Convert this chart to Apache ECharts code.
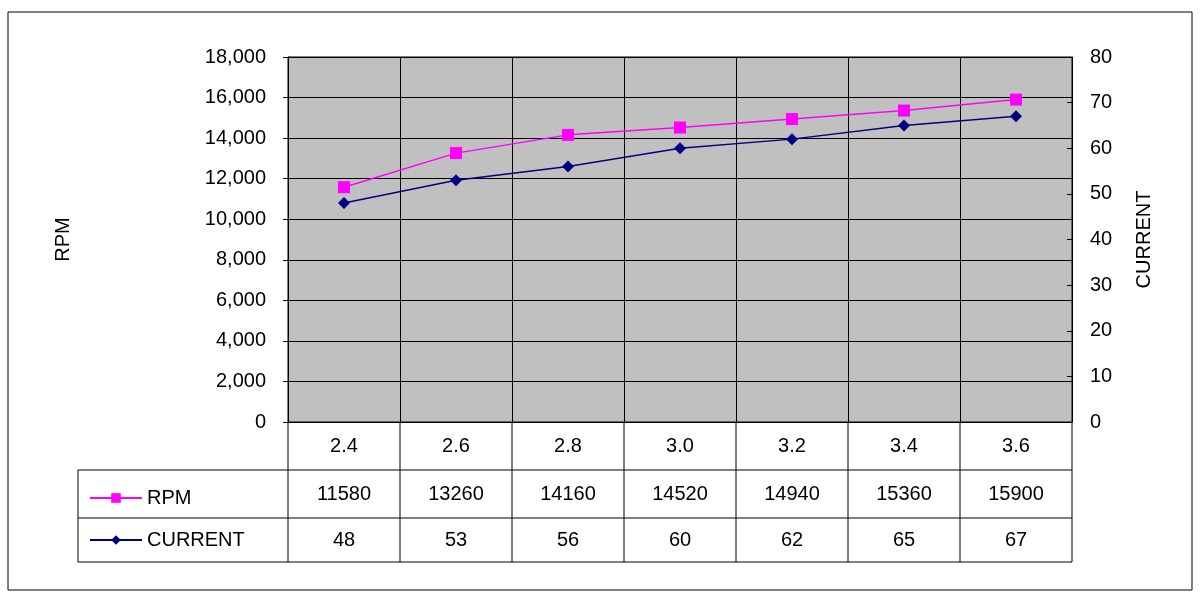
<!DOCTYPE html>
<html><head><meta charset="utf-8">
<script src="https://cdn.jsdelivr.net/npm/echarts@6/dist/echarts.min.js"></script>
<style>html,body{margin:0;background:#fff}#c{width:1200px;height:600px}</style>
</head><body><div id="c"></div>
<script>
const categories = ['2.4','2.6','2.8','3.0','3.2','3.4','3.6'];
const rpm = [11580,13260,14160,14520,14940,15360,15900];
const current = [48,53,56,60,62,65,67];
const F = 'Liberation Sans, Arial, sans-serif';
const chart = echarts.init(document.getElementById('c'));
const L = 288, R = 1072, T = 57, B = 422, W = (R-L)/7;
const lines = [];
function ln(x1,y1,x2,y2){lines.push({type:'line',shape:{x1,y1,x2,y2},style:{stroke:'#000',lineWidth:1},silent:true});}
ln(78,470,R,470); ln(78,518,R,518); ln(78,562,R,562); ln(78,470,78,562);
for(let k=0;k<=7;k++) ln(L+W*k,B,L+W*k,562);
lines.push({type:'rect',shape:{x:8,y:12,width:1184,height:578},style:{fill:'none',stroke:'#000',lineWidth:1},silent:true,z:-1});
const lab = {fontFamily:F,fontSize:20,color:'#000'};
chart.setOption({
  animation:false,
  textStyle:{fontFamily:F},
  grid:{left:L,right:1200-R,top:T,bottom:600-B,show:true,backgroundColor:'#c0c0c0',borderColor:'#000',borderWidth:1},
  legend:{orient:'vertical',left:84,top:483,itemGap:22,itemWidth:52,itemHeight:12,textStyle:{...lab},
    data:['RPM','CURRENT']},
  xAxis:[
    {type:'category',data:categories,axisTick:{show:false},axisLine:{lineStyle:{color:'#000'}},
     splitLine:{show:true,lineStyle:{color:'#000'}},axisLabel:{...lab,margin:14}},
    {type:'category',data:rpm.map(String),position:'bottom',offset:48,axisTick:{show:false},axisLine:{show:false},axisLabel:{...lab,margin:14}},
    {type:'category',data:current.map(String),position:'bottom',offset:96,axisTick:{show:false},axisLine:{show:false},axisLabel:{...lab,margin:12}}
  ],
  yAxis:[
    {type:'value',min:0,max:18000,interval:2000,name:'RPM',nameLocation:'middle',nameGap:215,nameRotate:90,
     nameTextStyle:{...lab},axisLine:{show:true,lineStyle:{color:'#000'}},axisTick:{show:true,length:5,lineStyle:{color:'#000'}},
     axisLabel:{...lab,margin:22},splitLine:{show:true,lineStyle:{color:'#000'}}},
    {type:'value',min:0,max:80,interval:10,name:'CURRENT',nameLocation:'middle',nameGap:62,nameRotate:90,
     nameTextStyle:{...lab},axisLine:{show:true,lineStyle:{color:'#000'}},axisTick:{show:true,length:5,inside:true,lineStyle:{color:'#000'}},
     axisLabel:{...lab,margin:18},splitLine:{show:false}}
  ],
  series:[
    {name:'RPM',type:'line',data:rpm,yAxisIndex:0,symbol:'rect',symbolSize:12,
     lineStyle:{color:'#ff00ff',width:1.5},itemStyle:{color:'#ff00ff'}},
    {name:'CURRENT',type:'line',data:current,yAxisIndex:1,symbol:'diamond',symbolSize:12,
     lineStyle:{color:'#000080',width:1.5},itemStyle:{color:'#000080'}}
  ],
  graphic:lines
});
</script></body></html>
